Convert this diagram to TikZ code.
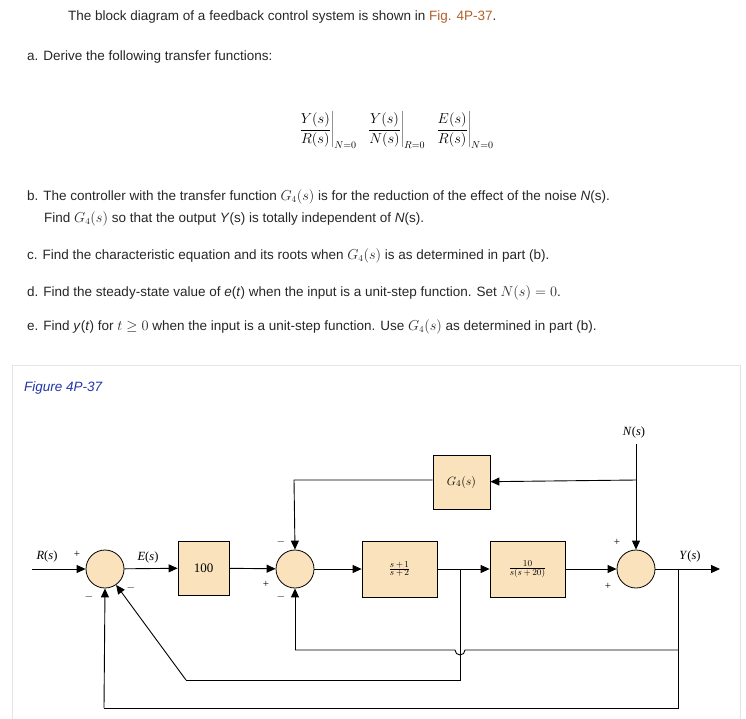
\documentclass[tikz,border=0pt]{standalone}
\usepackage{fontspec}
\setmainfont{Liberation Sans}
\newfontfamily\tms{Liberation Serif}
\usetikzlibrary{arrows.meta}
\definecolor{fill}{HTML}{FAE3BC}
\definecolor{figref}{HTML}{B0602A}
\definecolor{figblue}{HTML}{2233AA}
\tikzset{
 txt/.style={anchor=west,inner sep=0,font=\fontsize{13.5}{16}\selectfont,text=black!85},
 blk/.style={draw,fill=fill,line width=0.8pt,inner sep=0,font=\tms\fontsize{13}{15}\selectfont},
 sumn/.style={circle,draw,fill=fill,minimum size=38pt,inner sep=0,line width=0.8pt},
 lbl/.style={inner sep=0,font=\tms\fontsize{12.5}{15}\selectfont},
 sgn/.style={inner sep=0,font=\tms\fontsize{11}{13}\selectfont},
 wire/.style={line width=0.9pt},
 arr/.style={wire,-{Triangle[length=9pt,width=8pt]}}
}
\newcommand{\ii}[1]{\textit{#1}}
\begin{document}
\begin{tikzpicture}[x=1pt,y=-1pt]
\useasboundingbox (0,0) rectangle (746,718);
% text
\node[txt] (t1) at (68,17) {The block diagram of a feedback control system is shown in \textcolor{figref}{Fig. 4P-37}.};
\node[txt] (t2) at (27,57) {a. Derive the following transfer functions:};
\node[inner sep=0,font=\fontsize{14}{16}\selectfont] (fr) at (396,130) {$\displaystyle \left.\frac{Y(s)}{R(s)}\right|_{N=0}\ \ \left.\frac{Y(s)}{N(s)}\right|_{R=0}\ \ \left.\frac{E(s)}{R(s)}\right|_{N=0}$};
\node[txt] (tb) at (27,197) {b. The controller with the transfer function $G_4(s)$ is for the reduction of the effect of the noise \ii{N}(s).};
\node[txt] (tb2) at (44,219) {Find $G_4(s)$ so that the output \ii{Y}(s) is totally independent of \ii{N}(s).};
\node[txt] (tc) at (27,256) {c. Find the characteristic equation and its roots when $G_4(s)$ is as determined in part (b).};
\node[txt] (td) at (27,293) {d. Find the steady-state value of \ii{e}(\ii{t}) when the input is a unit-step function. Set $N(s)=0$.};
\node[txt] (te) at (27,327) {e. Find \ii{y}(\ii{t}) for $t\geq 0$ when the input is a unit-step function. Use $G_4(s)$ as determined in part (b).};
\draw[black!10,line width=0.8pt] (12,365) rectangle (740,730);
\node[txt,text=figblue,font=\itshape\fontsize{13.5}{16}\selectfont] (fl) at (24,388) {Figure 4P-37};
% diagram
\node[sumn] (s1) at (105,569) {};
\node[sumn] (s2) at (295,569) {};
\node[sumn] (s3) at (636,569) {};
\node[blk,minimum width=51pt,minimum height=54pt] (b1) at (203.5,568) {100};
\node[blk,minimum width=75pt,minimum height=56pt] (b2) at (399.5,569) {$\frac{s\,+\,1}{s\,+\,2}$};
\node[blk,minimum width=75pt,minimum height=56pt] (b3) at (527.5,569) {$\frac{10}{s(s\,+\,20)}$};
\node[blk,minimum width=57pt,minimum height=54pt] (g4) at (461.5,482) {$G_4(s)$};
\coordinate (rin) at (32,569);
\coordinate (yout) at (720,569);
\node[lbl] (rl) at (47,556) {\ii{R}(\ii{s})};
\node[lbl] (el) at (148,557) {\ii{E}(\ii{s})};
\node[lbl] (yl) at (690,556) {\ii{Y}(\ii{s})};
\node[lbl] (nl) at (634,432) {\ii{N}(\ii{s})};
\coordinate (nb) at (636,480);
\coordinate (tp) at (678,569);
\coordinate (tm) at (460,569);
\draw[arr] (rin) -- (s1);
\draw[arr] (s1) -- (b1);
\draw[arr] (b1) -- (s2);
\draw[arr] (s2) -- (b2);
\draw[arr] (b2) -- (b3);
\draw[arr] (b3) -- (s3);
\draw[arr] (s3) -- (yout);
\draw[arr] (636,444) -- (s3);
\draw[arr] (nb) -- (g4);
\draw[arr] (g4.west |- 480,480) -- (294,480) -- (s2.north);
% feedback
\draw[wire] (tp) -- (678,708) -- (104,708);
\draw[arr] (104,708) -- (s1.south);
\draw[wire] (tp|-0,650) -- (465,650) arc (0:180:5) -- (295,650);
\draw[arr] (295,650) -- (s2.south);
\draw[wire] (tm) -- (460,680) -- (186,680);
\draw[arr] (186,680) -- (s1.-55);
% signs
\node[sgn] at (77,554) {+};
\node[sgn] at (89,597) {$-$};
\node[sgn] at (131,588) {$-$};
\node[sgn] at (281,542) {$-$};
\node[sgn] at (266,584) {+};
\node[sgn] at (281,597) {$-$};
\node[sgn] at (617,542) {+};
\node[sgn] at (608,586) {+};
\end{tikzpicture}
\end{document}
